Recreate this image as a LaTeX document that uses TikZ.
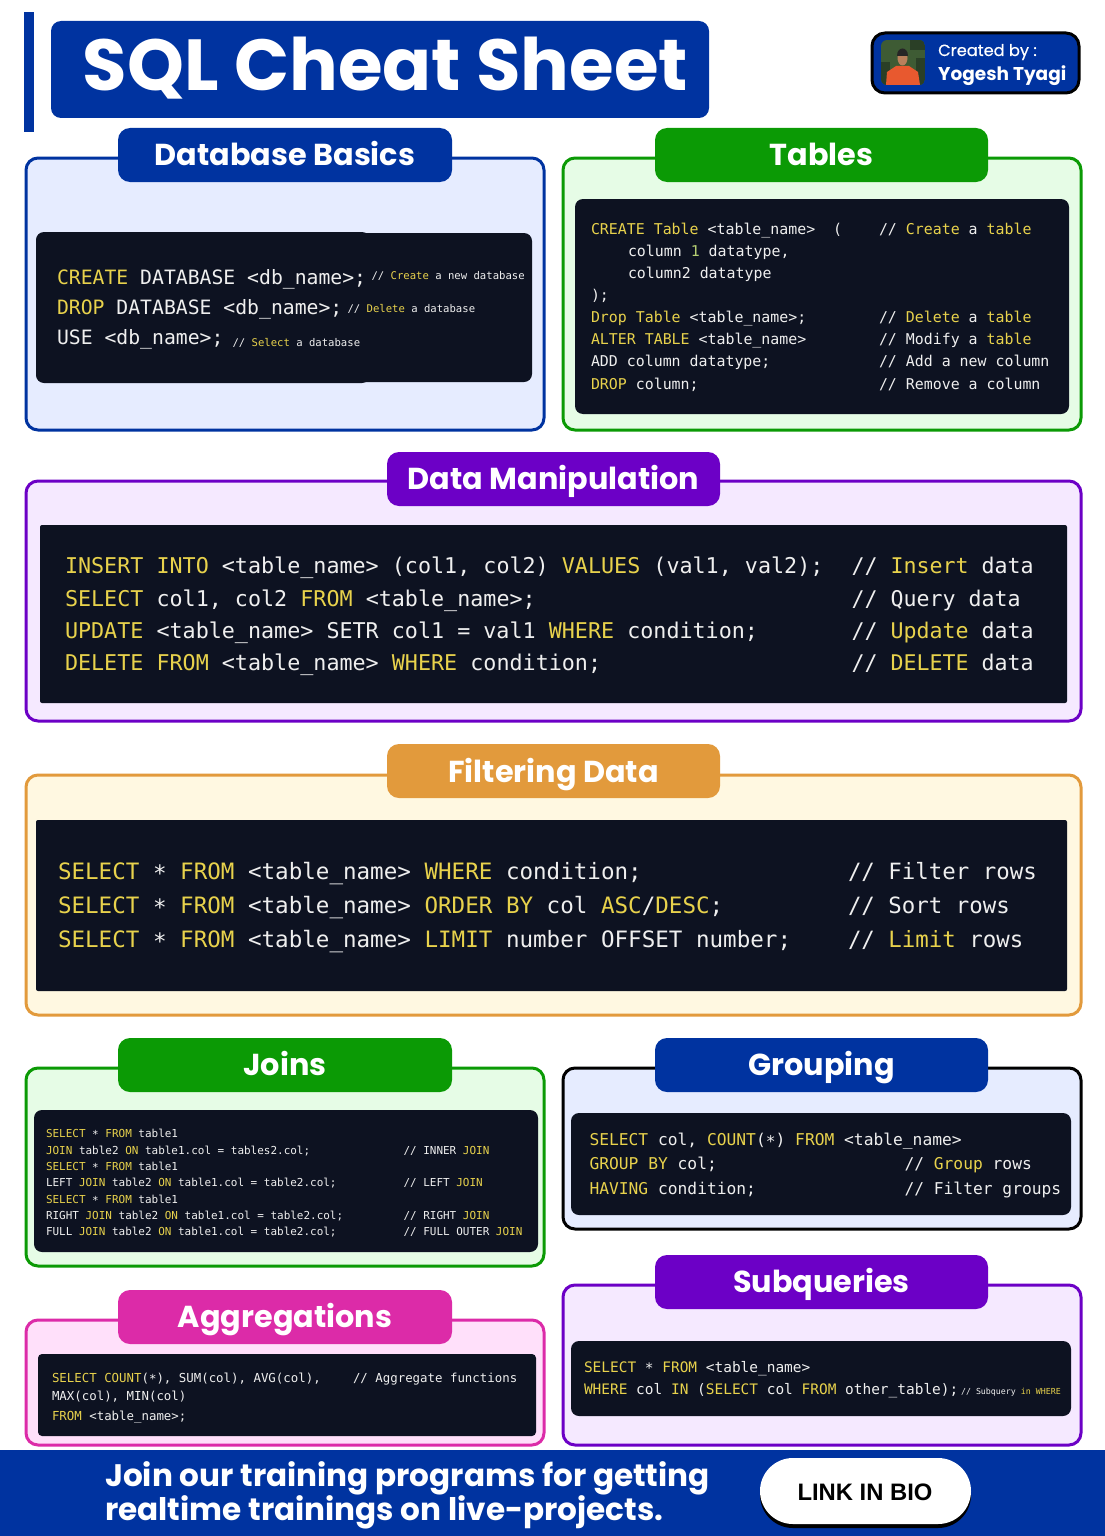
\documentclass[tikz,border=0pt]{standalone}
\usepackage{fontspec}
\newfontfamily\cd{DejaVu Sans Mono}
\newfontfamily\pop{Poppins}
\newfontfamily\popm{Poppins}[FakeBold=0.35]
\newfontfamily\lib{Liberation Sans}
\definecolor{blu}{HTML}{0033A0}
\definecolor{grn}{HTML}{0B9A05}
\definecolor{pur}{HTML}{6C00C6}
\definecolor{org}{HTML}{E29A3C}
\definecolor{pnk}{HTML}{DC2BA8}
\definecolor{lblu}{HTML}{E6ECFF}
\definecolor{lgrn}{HTML}{E6FCE6}
\definecolor{lpur}{HTML}{F5E9FF}
\definecolor{lorg}{HTML}{FFF8E1}
\definecolor{lpnk}{HTML}{FFE0FA}
\definecolor{drk}{HTML}{0D1221}
\definecolor{ylw}{HTML}{E8D24C}
\definecolor{cw}{HTML}{EFEFEF}
\definecolor{num}{HTML}{B5CE73}
\definecolor{shirt}{HTML}{E8592F}
\definecolor{leaf}{HTML}{3E5B34}
\definecolor{leafd}{HTML}{2A3F26}
\definecolor{skin}{HTML}{B9805C}
\newcommand{\kw}[1]{\textcolor{ylw}{#1}}
\newcommand{\st}{\raisebox{-0.13em}{*}}
\newcommand{\cl}[4]{\node (#1) at (#2,#3) {#4};}
\newcommand{\panel}[6]{%
  \draw[draw=#5,fill=#6,line width=3pt,rounded corners=12pt] (#1,#2) rectangle (#3,#4);}
\tikzset{
  code/.style={anchor=base west,inner sep=0pt,outer sep=0pt,text=cw,font=\cd\frenchspacing\fontsize{#1}{#1}\selectfont},
  tabtext/.style={anchor=base,inner sep=0pt,outer sep=0pt,text=white,font=\pop\bfseries\fontsize{30.3}{31}\selectfont},
  foot/.style={anchor=base west,inner sep=0pt,text=white,font=\pop\bfseries\fontsize{31.1}{32}\selectfont},
  codebox/.style={fill=drk,rounded corners=8pt},
}
\begin{document}
\begin{tikzpicture}[x=1pt,y=-1pt]
\fill[white] (0,0) rectangle (1105,1536);
\useasboundingbox (0,0) rectangle (1105,1536);

% title
\fill[blu] (24,12) rectangle (34,132);
\fill[blu,rounded corners=10pt] (51,21) rectangle (709,118);
\node[anchor=base,inner sep=0pt,text=white,font=\pop\bfseries\fontsize{72.3}{73}\selectfont] (title) at (385.5,91) {SQL Cheat Sheet};

% author badge
\draw[draw=black,fill=blu,line width=3pt,rounded corners=13pt] (872,33) rectangle (1079,93);
\begin{scope}
  \clip[rounded corners=6pt] (881,40) rectangle (925,85);
  \fill[leaf] (881,40) rectangle (925,85);
  \fill[leafd] (881,62) rectangle (890,85);
  \fill[leafd] (916,58) rectangle (925,85);
  \fill[leafd] (910,40) rectangle (925,50);
  \fill[shirt] (886,85) -- (887,72) -- (896,66) -- (909,66) -- (918,72) -- (920,85) -- cycle;
  \fill[skin] (902.5,58) ellipse (5pt and 7.5pt);
  \fill[black!85] (897,56) .. controls (897,46) and (908,46) .. (908,56) -- cycle;
\end{scope}
\node[anchor=base west,inner sep=0pt,text=white,font=\popm\fontsize{16.2}{17}\selectfont] (created) at (938,56) {Created by :};
\node[anchor=base west,inner sep=0pt,text=white,font=\pop\bfseries\fontsize{18.5}{20}\selectfont] (yogesh) at (938,80.5) {Yogesh Tyagi};

% Database Basics
\panel{26}{158}{544}{430}{blu}{lblu}
\fill[blu,rounded corners=12pt] (118,128) rectangle (452,182);
\node[tabtext] (tbasics) at (285,165) {Database Basics};
\fill[codebox] (36,232) rectangle (370,383);
\fill[codebox] (36,233) rectangle (532,382);
\begin{scope}[every node/.style={code=19.75}]
\cl{b1}{57}{284}{\kw{CREATE} DATABASE <db\_name>;}
\cl{b2}{57}{314}{\kw{DROP} DATABASE <db\_name>;}
\cl{b3}{57}{344}{USE <db\_name>;}
\end{scope}
\begin{scope}[every node/.style={code=10.6}]
\cl{bc1}{371.5}{279.5}{// \kw{Create} a new database}
\cl{bc2}{347.5}{312.5}{// \kw{Delete} a database}
\cl{bc3}{232.5}{346.5}{// \kw{Select} a database}
\end{scope}

% Tables
\panel{563}{158}{1081}{430}{grn}{lgrn}
\fill[grn,rounded corners=12pt] (655,128) rectangle (988,182);
\node[tabtext] (ttables) at (821.5,165) {Tables};
\fill[codebox] (575,199) rectangle (1069,414);
\begin{scope}[every node/.style={code=14.9}]
\cl{t1}{591}{234}{\kw{CREATE} \kw{Table} <table\_name>}
\cl{t1p}{833}{234}{(}
\cl{t2}{628}{256}{column \textcolor{num}{1} datatype,}
\cl{t3}{628}{278}{column2 datatype}
\cl{t4}{591}{300.5}{);}
\cl{t5}{591}{322.5}{\kw{Drop} \kw{Table} <table\_name>;}
\cl{t6}{591}{344.5}{\kw{ALTER} \kw{TABLE} <table\_name>}
\cl{t7}{591}{366.5}{ADD column datatype;}
\cl{t8}{591}{389.5}{\kw{DROP} column;}
\cl{tc1}{879}{234}{// \kw{Create} a \kw{table}}
\cl{tc5}{879}{322.5}{// \kw{Delete} a \kw{table}}
\cl{tc6}{879}{344.5}{// Modify a \kw{table}}
\cl{tc7}{879}{366.5}{// Add a new column}
\cl{tc8}{879}{389.5}{// Remove a column}
\end{scope}

% Data Manipulation
\panel{26}{481}{1081}{721}{pur}{lpur}
\fill[pur,rounded corners=12pt] (387,452) rectangle (720,506);
\node[tabtext] (tdata) at (553.5,489) {Data Manipulation};
\fill[drk,rounded corners=2pt] (40,525) rectangle (1067,703);
\begin{scope}[every node/.style={code=21.72}]
\cl{d1}{65}{573}{\kw{INSERT} \kw{INTO} <table\_name> (col1, col2) \kw{VALUES} (val1, val2);}
\cl{d2}{65}{606}{\kw{SELECT} col1, col2 \kw{FROM} <table\_name>;}
\cl{d3}{65}{638}{\kw{UPDATE} <table\_name> SETR col1 = val1 \kw{WHERE} condition;}
\cl{d4}{65}{670}{\kw{DELETE} \kw{FROM} <table\_name> \kw{WHERE} condition;}
\end{scope}
\begin{scope}[every node/.style={code=21.6}]
\cl{dc1}{851.5}{573}{// \kw{Insert} data}
\cl{dc2}{851.5}{606}{// Query data}
\cl{dc3}{851.5}{638}{// \kw{Update} data}
\cl{dc4}{851.5}{670}{// \kw{DELETE} data}
\end{scope}

% Filtering Data
\panel{26}{775}{1081}{1015}{org}{lorg}
\fill[org,rounded corners=12pt] (387,744) rectangle (720,798);
\node[tabtext] (tfilter) at (553.5,782) {Filtering Data};
\fill[drk,rounded corners=2pt] (36,820) rectangle (1067,991);
\begin{scope}[every node/.style={code=22.55}]
\cl{f1}{58}{879}{\kw{SELECT} \st{} \kw{FROM} <table\_name> \kw{WHERE} condition;}
\cl{f2}{58}{913}{\kw{SELECT} \st{} \kw{FROM} <table\_name> \kw{ORDER} \kw{BY} col \kw{ASC}/\kw{DESC};}
\cl{f3}{58}{947}{\kw{SELECT} \st{} \kw{FROM} <table\_name> \kw{LIMIT} number OFFSET number;}
\end{scope}
\begin{scope}[every node/.style={code=22.4}]
\cl{fc1}{848}{879}{// Filter rows}
\cl{fc2}{848}{913}{// Sort rows}
\cl{fc3}{848}{947}{// \kw{Limit} rows}
\end{scope}

% Joins
\panel{26}{1068}{544}{1266}{grn}{lgrn}
\fill[grn,rounded corners=12pt] (118,1038) rectangle (452,1092);
\node[tabtext] (tjoins) at (285,1075) {Joins};
\fill[codebox] (34,1110) rectangle (538,1252);
\begin{scope}[every node/.style={code=10.97}]
\cl{j1}{46}{1137}{\kw{SELECT} \st{} \kw{FROM} table1}
\cl{j2}{46}{1154}{\kw{JOIN} table2 \kw{ON} table1.col = tables2.col;}
\cl{j3}{46}{1170}{\kw{SELECT} \st{} \kw{FROM} table1}
\cl{j4}{46}{1186}{LEFT \kw{JOIN} table2 \kw{ON} table1.col = table2.col;}
\cl{j5}{46}{1203}{\kw{SELECT} \st{} \kw{FROM} table1}
\cl{j6}{46}{1219}{RIGHT \kw{JOIN} table2 \kw{ON} table1.col = table2.col;}
\cl{j7}{46}{1235}{FULL \kw{JOIN} table2 \kw{ON} table1.col = table2.col;}
\cl{jc2}{403.5}{1154}{// INNER \kw{JOIN}}
\cl{jc4}{403.5}{1186}{// LEFT \kw{JOIN}}
\cl{jc6}{403.5}{1219}{// RIGHT \kw{JOIN}}
\cl{jc7}{403.5}{1235}{// FULL OUTER \kw{JOIN}}
\end{scope}

% Aggregations
\panel{26}{1320}{544}{1445}{pnk}{lpnk}
\fill[pnk,rounded corners=12pt] (118,1290) rectangle (452,1344);
\node[tabtext] (taggr) at (285,1327) {Aggregations};
\fill[drk,rounded corners=4pt] (38,1354) rectangle (536,1436);
\begin{scope}[every node/.style={code=12.4}]
\cl{a1}{52}{1382}{\kw{SELECT} \kw{COUNT}(\st), SUM(col), AVG(col),}
\cl{a2}{52}{1400}{MAX(col), MIN(col)}
\cl{a3}{52}{1420}{\kw{FROM} <table\_name>;}
\cl{ac1}{353}{1382}{// Aggregate functions}
\end{scope}

% Grouping
\panel{563}{1068}{1081}{1229}{black}{lblu}
\fill[blu,rounded corners=12pt] (655,1038) rectangle (988,1092);
\node[tabtext] (tgroup) at (821.5,1075) {Grouping};
\fill[codebox] (571,1113) rectangle (1071,1215);
\begin{scope}[every node/.style={code=16.27}]
\cl{g1}{589.5}{1145}{\kw{SELECT} col, \kw{COUNT}(\st) \kw{FROM} <table\_name>}
\cl{g2}{589.5}{1169}{\kw{GROUP} \kw{BY} col;}
\cl{g3}{589.5}{1194}{\kw{HAVING} condition;}
\cl{gc2}{904.5}{1169}{// \kw{Group} rows}
\cl{gc3}{904.5}{1194}{// Filter groups}
\end{scope}

% Subqueries
\panel{563}{1285}{1081}{1445}{pur}{lpur}
\fill[pur,rounded corners=12pt] (655,1255) rectangle (988,1309);
\node[tabtext] (tsub) at (821.5,1292) {Subqueries};
\fill[codebox] (571,1341) rectangle (1071,1416);
\begin{scope}[every node/.style={code=14.46}]
\cl{s1}{584}{1372}{\kw{SELECT} \st{} \kw{FROM} <table\_name>}
\cl{s2}{584}{1394}{\kw{WHERE} col \kw{IN} (\kw{SELECT} col \kw{FROM} other\_table);}
\end{scope}
\node[code=8.3] (sc2) at (961,1394) {// Subquery \kw{in} \kw{WHERE}};

% footer
\fill[blu] (0,1450) rectangle (1105,1536);
\node[foot] (foot1) at (105,1486.5) {Join our training programs for getting};
\node[foot] (foot2) at (105,1520.5) {realtime trainings on live-projects.};
\fill[black,rounded corners=33pt] (760,1462) rectangle (971,1528);
\fill[white,rounded corners=33pt] (760,1458) rectangle (971,1524);
\node[anchor=base,inner sep=0pt,text=black,font=\lib\bfseries\fontsize{23.8}{25}\selectfont] (link) at (865,1500) {LINK IN BIO};
\end{tikzpicture}
\end{document}
